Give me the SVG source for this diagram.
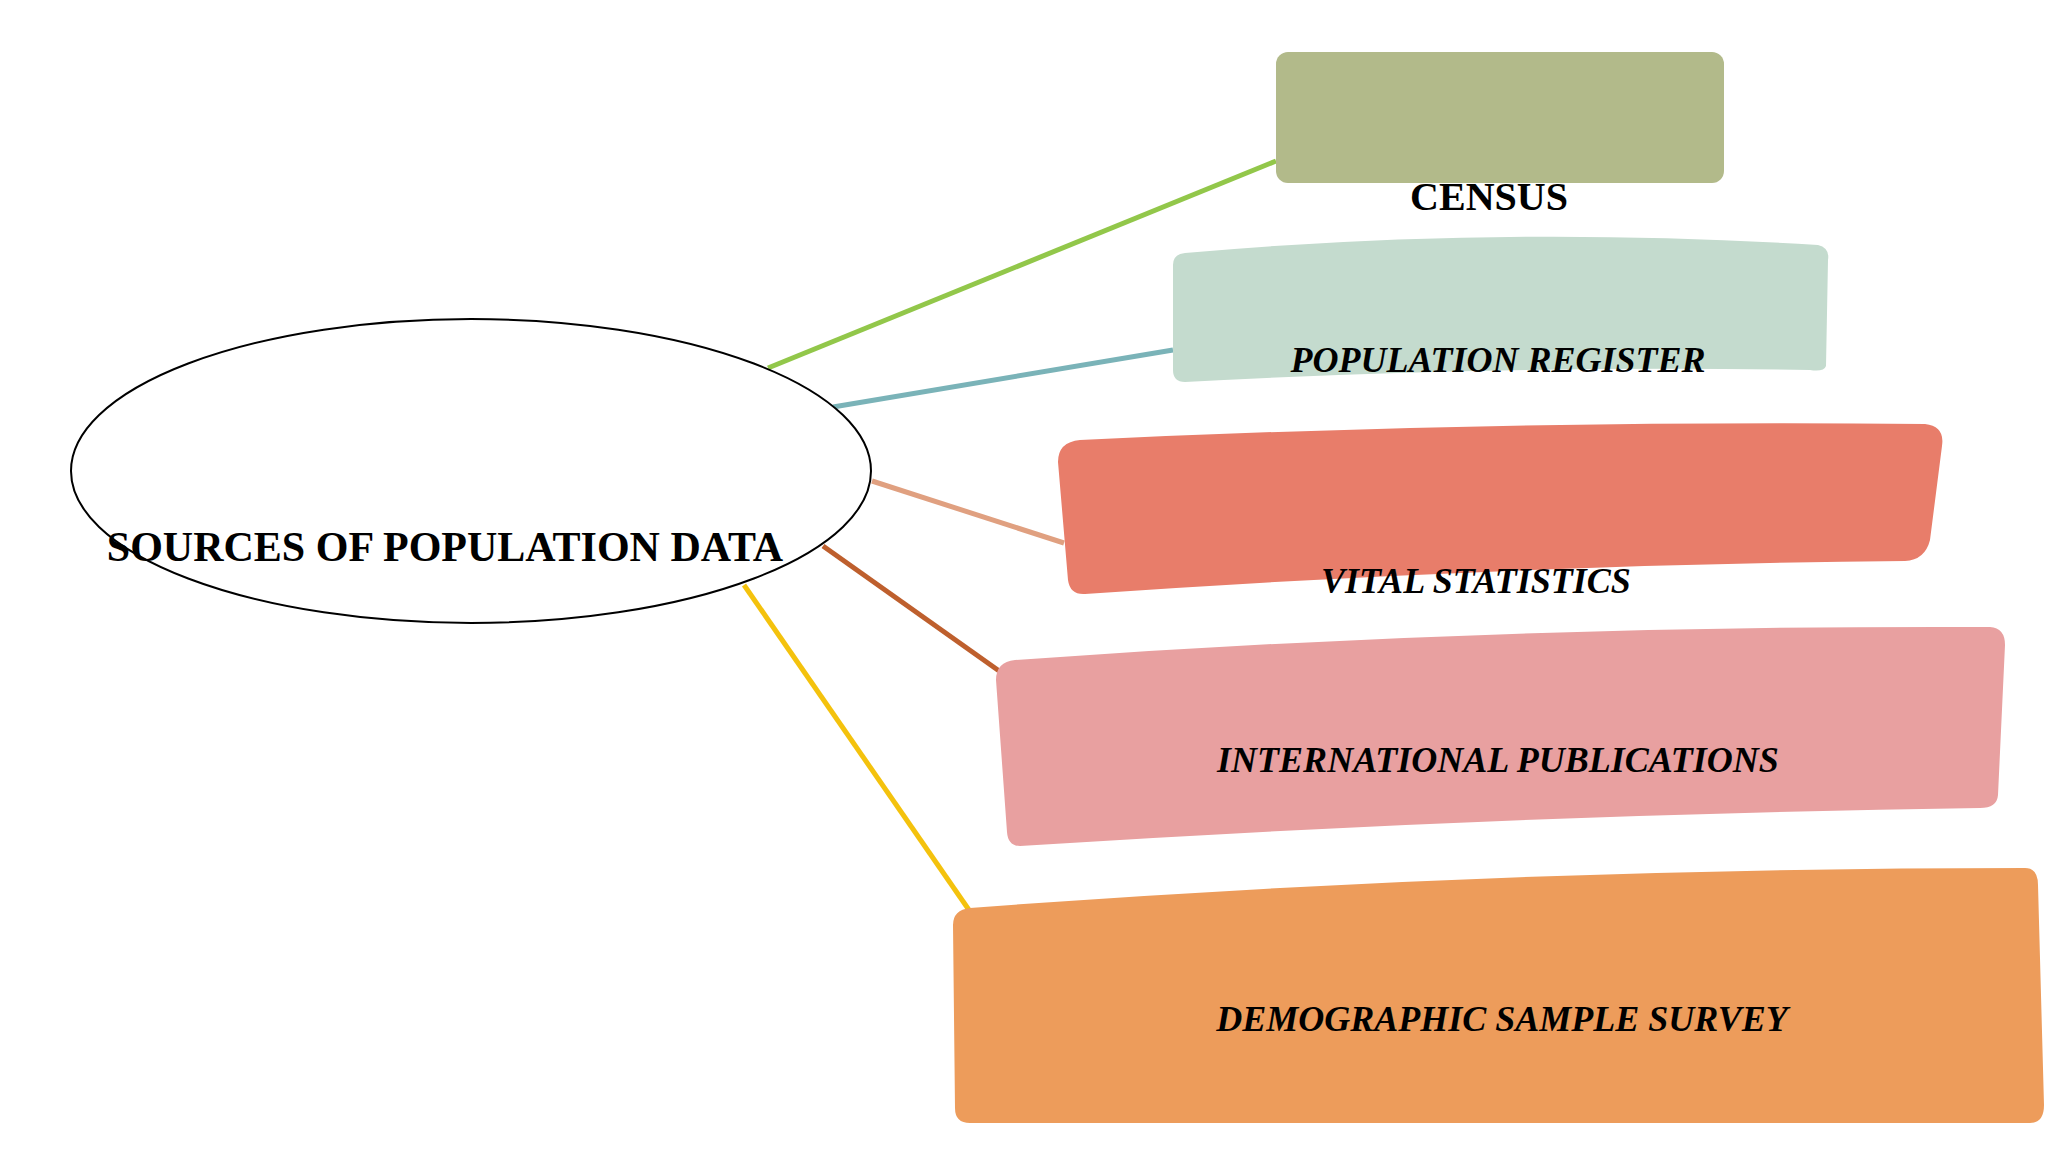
<svg xmlns="http://www.w3.org/2000/svg" width="2048" height="1152" viewBox="0 0 2048 1152">
<style>
.t{font-family:"Liberation Serif",serif;font-weight:bold;fill:#000;text-anchor:middle}
.c{fill:none;stroke-width:5}
</style>
<rect width="2048" height="1152" fill="#fff"/>
<g id="connectors">
<line class="c" x1="768" y1="368" x2="1276" y2="161" stroke="#92C74A"/>
<line class="c" x1="833" y1="407" x2="1173" y2="350" stroke="#7AB3B8"/>
<line class="c" x1="872" y1="481" x2="1064" y2="543" stroke="#E0A080"/>
<line class="c" x1="823" y1="546" x2="1002" y2="673" stroke="#BE5F2D"/>
<line class="c" x1="744" y1="585" x2="969" y2="910" stroke="#F4C20D"/>
</g>
<g id="center">
<ellipse cx="471" cy="471" rx="400" ry="152" fill="#fff" stroke="#000" stroke-width="2"/>
<text class="t" x="445" y="561" font-size="42">SOURCES OF POPULATION DATA</text>
</g>
<g id="census">
<rect x="1276" y="52" width="448" height="131" rx="12" fill="#B2BA8A"/>
<text class="t" x="1489" y="210" font-size="40">CENSUS</text>
</g>
<g id="register">
<path d="M1185 253 Q1500 225 1818 245 Q1830 248 1828 260 L1826 366 Q1824 372 1810 370 Q1500 365 1185 382 Q1173 382 1173 370 L1173 265 Q1173 254 1185 253Z" fill="#C4DBCE"/>
<text class="t" x="1498" y="372" font-size="36" font-style="italic">POPULATION REGISTER</text>
</g>
<g id="vital">
<path d="M1080 440 Q1500 420 1925 424 Q1945 426 1942 446 L1930 540 Q1925 560 1905 561 Q1500 565 1085 594 Q1070 595 1068 580 L1058 462 Q1058 442 1080 440Z" fill="#E87D6A"/>
<text class="t" x="1476" y="593" font-size="36" font-style="italic">VITAL STATISTICS</text>
</g>
<g id="international">
<path d="M1015 660 Q1500 625 1990 627 Q2005 628 2005 645 L1998 795 Q1997 808 1980 808 Q1500 815 1020 846 Q1008 846 1007 832 L996 680 Q996 662 1015 660Z" fill="#E8A0A0"/>
<text class="t" x="1498" y="772" font-size="36" font-style="italic" font-weight="normal">INTERNATIONAL PUBLICATIONS</text>
</g>
<g id="demographic">
<path d="M970 908 Q1500 868 2025 868 Q2038 868 2038 885 L2044 1105 Q2044 1123 2030 1123 L970 1123 Q955 1123 955 1108 L953 925 Q953 910 970 908Z" fill="#ED9C5B"/>
<text class="t" x="1502" y="1031" font-size="36" font-style="italic">DEMOGRAPHIC SAMPLE SURVEY</text>
</g>
</svg>
